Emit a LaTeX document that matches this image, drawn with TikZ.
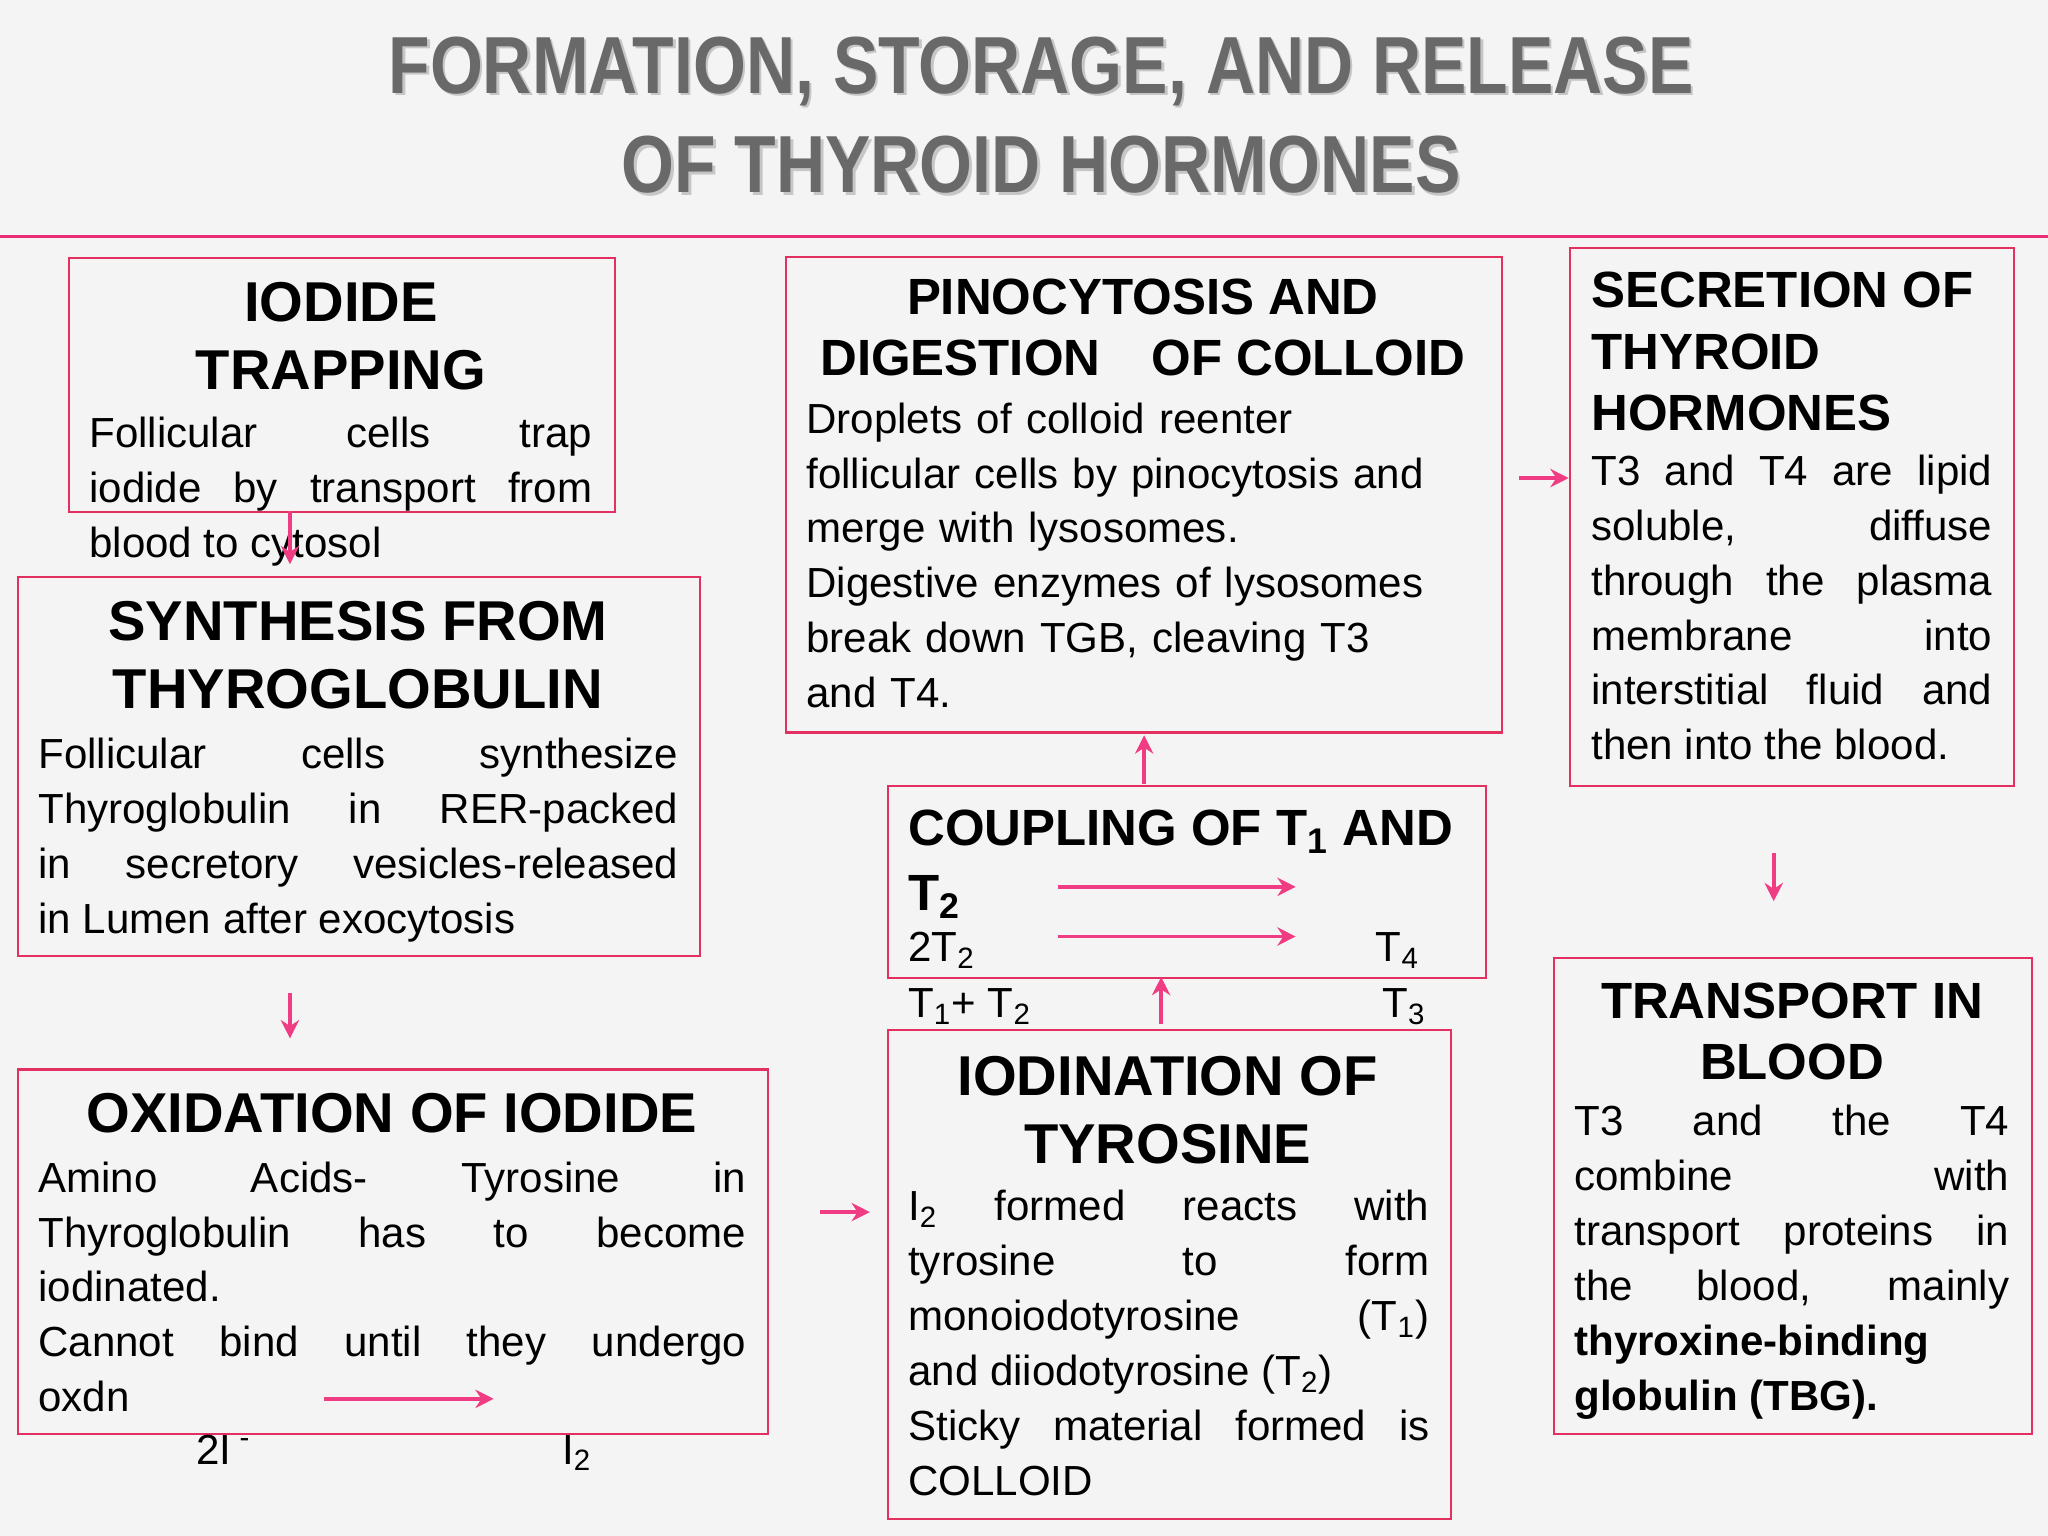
\documentclass[tikz,border=0pt]{standalone}
\usepackage{fontspec}
\setmainfont{Liberation Sans}
\usetikzlibrary{arrows.meta}
\definecolor{boxc}{RGB}{228,48,96}
\definecolor{arrc}{RGB}{240,60,130}
\definecolor{linec}{RGB}{235,45,120}
\definecolor{titc}{RGB}{105,105,105}
\begin{document}
\begin{tikzpicture}[x=0.5pt,y=-0.5pt,
  box/.style={draw=boxc,line width=0.8pt,minimum width=#1,inner sep=0,anchor=north west},
  arr/.style={-{Stealth[length=7pt,width=7pt]},draw=arrc,line width=1.5pt},
  body/.style={anchor=north west,inner sep=0,text width=#1,align=justify,font=\fontsize{16.1}{21}\selectfont},
  rbody/.style={anchor=north west,inner sep=0,text width=#1,align=left,font=\fontsize{16.1}{21}\selectfont},
  ttl/.style={anchor=north,inner sep=0,align=center,font=\fontsize{21.5}{26}\selectfont\bfseries},
  ttl2/.style={anchor=north,inner sep=0,align=center,font=\fontsize{19.5}{23.5}\selectfont\bfseries},
  ttll/.style={anchor=north west,inner sep=0,align=left,font=\fontsize{19.5}{23.5}\selectfont\bfseries},
  plain/.style={anchor=base west,inner sep=0,font=\fontsize{16.1}{21}\selectfont}]
\fill[gray!9] (0,0) rectangle (1568,1176);
\useasboundingbox (0,0) rectangle (1568,1176);
% title
\foreach \dx/\c in {2/gray!45,0/titc}{
\node[inner sep=0,xscale=0.84,transform shape,text=\c,font=\fontsize{31}{36}\selectfont\bfseries,align=center] (t\dx) at (797+\dx,88+\dx) {FORMATION, STORAGE, AND RELEASE\\[2pt]OF THYROID HORMONES};}
\coordinate (la) at (0,181); \coordinate (lb) at (1568,181);
\draw[linec,line width=1pt] (la) -- (lb);
% boxes
\node[box=209pt,minimum height=97pt] (b1) at (52,197) {};
\node[box=261pt,minimum height=145pt] (b2) at (13,441) {};
\node[box=287pt,minimum height=139.5pt] (b3) at (13,818) {};
\node[box=215.5pt,minimum height=187pt] (b4) at (679,788) {};
\node[box=229pt,minimum height=73.5pt] (b5) at (679,601) {};
\node[box=274pt,minimum height=182pt] (b6) at (601,196) {};
\node[box=170pt,minimum height=206pt] (b7) at (1201,189) {};
\node[box=183pt,minimum height=182pt] (b8) at (1189,733) {};
% box 1
\node[ttl] (h1) at (261,216) {IODIDE\\TRAPPING};
\node[body=192.5pt] (p1) at (68,319) {Follicular cells trap\linebreak iodide by transport from\linebreak blood to cytosol};
% box 2
\node[ttl] (h2) at (274,460) {SYNTHESIS FROM\\THYROGLOBULIN};
\node[body=245pt] (p2) at (29,565) {Follicular cells synthesize\linebreak Thyroglobulin in RER-packed\linebreak in secretory vesicles-released\linebreak in Lumen after exocytosis};
% box 3
\node[ttl] (h3) at (300,837) {OXIDATION OF IODIDE};
\node[body=271pt] (p3) at (29,889) {Amino Acids- Tyrosine in\linebreak Thyroglobulin has to become\linebreak iodinated.\\ Cannot bind until they undergo\linebreak oxdn};
\coordinate (o1) at (248,1071); \coordinate (o2) at (378,1071);
\draw[arr] (o1) -- (o2);
\node[plain] (s1) at (150,1121) {2I\textsuperscript{ -}};
\node[plain] (s2) at (430,1121) {I\textsubscript{2}};
% box 4
\node[ttl] (h4) at (894,808) {IODINATION OF\\TYROSINE};
\node[body=199.5pt] (p4) at (695,911) {I\textsubscript{2} formed reacts with\linebreak tyrosine to form\linebreak monoiodotyrosine (T\textsubscript{1})\linebreak and diiodotyrosine (T\textsubscript{2})\\ Sticky material formed is\linebreak COLLOID};
% box 5
\node[ttll,anchor=base west] (h5) at (695,647) {COUPLING OF T\textsubscript{1} AND};
\node[ttll,anchor=base west] (h5b) at (695,697) {T\textsubscript{2}};
\coordinate (c1) at (810,679); \coordinate (c2) at (992,679);
\coordinate (c3) at (810,717); \coordinate (c4) at (992,717);
\draw[arr] (c1) -- (c2); \draw[arr] (c3) -- (c4);
\node[plain] (q1) at (695,736) {2T\textsubscript{2}};
\node[plain] (q2) at (1053,736) {T\textsubscript{4}};
\node[plain] (q3) at (695,779) {T\textsubscript{1}+ T\textsubscript{2}};
\node[plain] (q4) at (1058,779) {T\textsubscript{3}};
% box 6
\node[ttl2] (h6) at (875,213) {PINOCYTOSIS AND\\DIGESTION\quad OF COLLOID};
\node[rbody=260pt] (p6) at (617,308) {Droplets of colloid reenter\\ follicular cells by pinocytosis and\\ merge with lysosomes.\\ Digestive enzymes of lysosomes\\ break down TGB, cleaving T3\\ and T4.};
% box 7
\node[ttll] (h7) at (1218,208) {SECRETION OF\\THYROID\\HORMONES};
\node[body=153.5pt] (p7) at (1218,348) {T3 and T4 are lipid\linebreak soluble, diffuse\linebreak through the plasma\linebreak membrane into\linebreak interstitial fluid and\linebreak then into the blood.};
% box 8
\node[ttl2] (h8) at (1372,752) {TRANSPORT IN\\BLOOD};
\node[body=166.5pt] (p8) at (1205,846) {T3 and the T4\linebreak combine with\linebreak transport proteins in\linebreak the blood, mainly\linebreak \textbf{thyroxine-binding}\\ \textbf{globulin (TBG).}};
% arrows between boxes
\coordinate (a1) at (222,391); \coordinate (a2) at (222,432);
\coordinate (a3) at (222,760); \coordinate (a4) at (222,795);
\coordinate (a5) at (628,928); \coordinate (a6) at (666,928);
\coordinate (a7) at (889,784); \coordinate (a8) at (889,748);
\coordinate (a9) at (876,600); \coordinate (a10) at (876,563);
\coordinate (a11) at (1163,366); \coordinate (a12) at (1201,366);
\coordinate (a13) at (1358,653); \coordinate (a14) at (1358,690);
\draw[arr] (a1) -- (a2); \draw[arr] (a3) -- (a4); \draw[arr] (a5) -- (a6);
\draw[arr] (a7) -- (a8); \draw[arr] (a9) -- (a10); \draw[arr] (a11) -- (a12);
\draw[arr] (a13) -- (a14);
\end{tikzpicture}
\end{document}
